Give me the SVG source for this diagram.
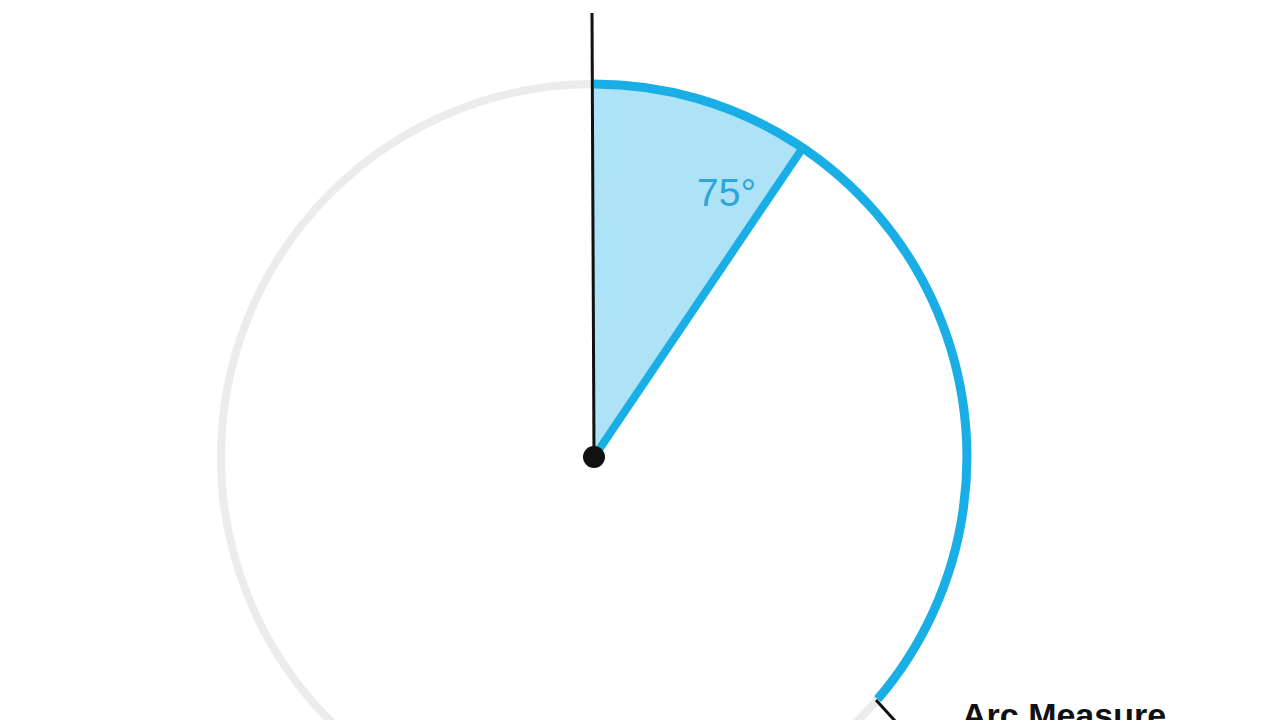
<svg xmlns="http://www.w3.org/2000/svg" width="1280" height="720" viewBox="0 0 1280 720">
<style>
.ring{fill:none;stroke:#ececec;stroke-width:8}
.arc{fill:none;stroke:#1aaee6;stroke-width:9;stroke-linecap:butt}
.sector{fill:#aee2f7;stroke:none}
.radius{stroke:#1aaee6;stroke-width:8;stroke-linecap:round}
.ref{stroke:#111;stroke-width:3}
.lbl{font-family:"Liberation Sans",Arial,sans-serif}
</style>
<rect width="1280" height="720" fill="#ffffff"/>
<g id="circle">
<circle class="ring" cx="594" cy="457" r="373"/>
</g>
<g id="sector">
<path class="sector" d="M594,457 L594,84 A373,373 0 0 1 802.7,147.9 Z"/>
<text class="lbl" x="697" y="206" font-size="39" fill="#2ba6d9">75°</text>
</g>
<g id="arc">
<path class="arc" d="M594,84 A373,373 0 0 1 877.6,699.2"/>
</g>
<g id="connectors">
<line class="radius" x1="594" y1="457" x2="802.7" y2="147.9"/>
<line class="ref" x1="592" y1="13" x2="594" y2="457"/>
<line class="ref" x1="876" y1="700" x2="896" y2="722"/>
</g>
<g id="center">
<circle cx="594" cy="457" r="11" fill="#111"/>
</g>
<g id="arc-label">
<text class="lbl" x="962" y="727" font-size="34" font-weight="bold" fill="#111">Arc Measure</text>
</g>
</svg>
